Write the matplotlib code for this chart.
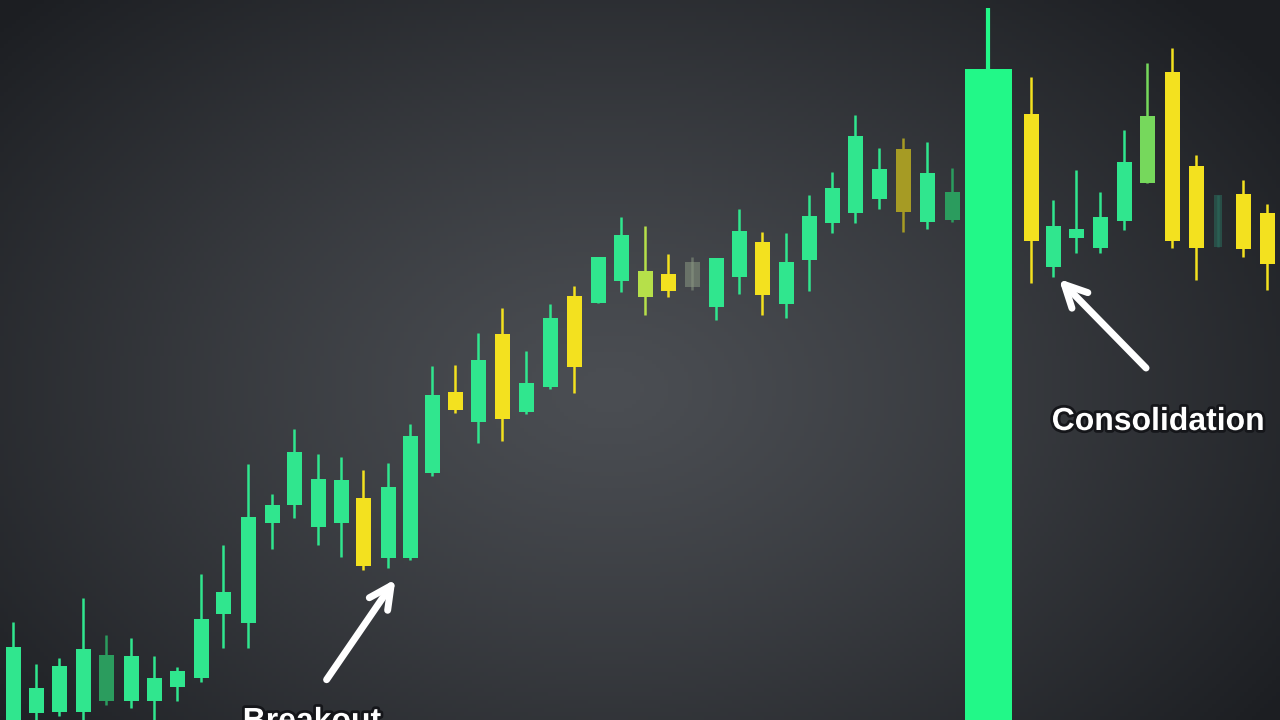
import numpy as np
import matplotlib.pyplot as plt
import matplotlib.patheffects as pe

# candle data (session position, open, high, low, close, colour kind)
t = [13, 36, 59, 83, 106, 131, 154, 177, 201, 223, 248, 272, 294, 318, 341, 363,
     388, 410, 432, 455, 478, 502, 526, 550, 574, 598, 621, 645, 668, 692, 716,
     739, 762, 786, 809, 832, 855, 879, 903, 927, 952, 988, 1031, 1053, 1076,
     1100, 1124, 1147, 1172, 1196, 1218, 1243, 1267]
high = [98, 56, 62, 122, 85, 82, 64, 53, 146, 175, 256, 226, 291, 266, 263, 250,
        257, 296, 354, 355, 387, 412, 369, 416, 434, 463, 503, 494, 466, 463, 462,
        511, 488, 487, 525, 548, 605, 572, 582, 578, 552, 712, 643, 520, 550,
        528, 590, 657, 672, 565, 525, 540, 516]
low = [-10, -10, 4, -10, 15, 12, -10, 19, 38, 72, 72, 171, 202, 175, 163, 150,
       152, 160, 244, 307, 277, 279, 306, 331, 327, 417, 428, 405, 423, 430, 400,
       426, 405, 402, 429, 487, 497, 511, 488, 491, 498, -10, 437, 443, 467,
       467, 490, 537, 472, 440, 473, 463, 430]
body_top = [73, 32, 54, 71, 65, 64, 42, 49, 101, 128, 203, 215, 268, 241, 240, 222,
            233, 284, 325, 328, 360, 386, 337, 402, 424, 463, 485, 449, 446, 458, 462,
            489, 478, 458, 504, 532, 584, 551, 571, 547, 528, 651, 606, 494, 491,
            503, 558, 604, 648, 554, 525, 526, 507]
body_bot = [-2, 7, 8, 8, 19, 19, 19, 33, 42, 106, 97, 197, 215, 193, 197, 154,
            162, 162, 247, 310, 298, 301, 308, 333, 353, 417, 439, 423, 429, 433, 413,
            443, 425, 416, 460, 497, 507, 521, 508, 498, 500, -10, 479, 453, 482,
            472, 499, 537, 479, 472, 473, 471, 456]
kind = ['g', 'g', 'g', 'g', 'dg', 'g', 'g', 'g', 'g', 'g', 'g', 'g', 'g', 'g', 'g', 'y',
        'g', 'g', 'g', 'y', 'g', 'y', 'g', 'g', 'y', 'g', 'g', 'lime', 'y', 'ghost', 'g',
        'g', 'y', 'g', 'g', 'g', 'g', 'g', 'olive', 'g', 'dg', 'big', 'y', 'g', 'g',
        'g', 'g', 'leaf', 'y', 'y', 'teal', 'y', 'y']

colors = {'g': '#30e68e', 'dg': '#2b9c5e', 'y': '#f3e11f', 'lime': '#b6e04a',
          'leaf': '#76d85c', 'olive': '#a69b24', 'ghost': '#8a9882',
          'teal': '#2b6e5e', 'big': '#22f888'}

fig = plt.figure(figsize=(12.8, 7.2), dpi=100)
ax = fig.add_axes([0, 0, 1, 1])
ax.set_xlim(0, 1280)
ax.set_ylim(0, 720)
ax.axis('off')

# radial background glow
gx, gy = np.meshgrid(np.linspace(0, 1280, 320), np.linspace(720, 0, 180))
r = np.sqrt(((gx - 610) / 820) ** 2 + ((gy - 330) / 560) ** 2)
r = np.clip(r, 0, 1)
c_in = np.array([0x4b, 0x4e, 0x53]) / 255
c_out = np.array([0x1c, 0x1e, 0x22]) / 255
w = r[..., None] ** 1.2
img = c_in * (1 - w) + c_out * w
ax.imshow(img, extent=[0, 1280, 0, 720], aspect='auto', zorder=0)

for i in range(len(t)):
    k = kind[i]
    col = colors[k]
    alpha = 0.55 if k in ('ghost', 'teal') else 1.0
    bw = 47 if k == 'big' else (8 if k == 'teal' else 15)
    lw = 3 if k == 'big' else 1.8
    ax.vlines(t[i], low[i], high[i], color=col, lw=lw, alpha=alpha, zorder=2)
    ax.bar(t[i], body_top[i] - body_bot[i], bottom=body_bot[i], width=bw,
           color=col, alpha=alpha, zorder=3 if k != 'big' else 4)

shadow = [pe.withStroke(linewidth=4, foreground='#15161a')]
arrow = dict(arrowstyle='->,head_length=1.6,head_width=0.8', color='white',
             lw=5, capstyle='round', joinstyle='round')

ax.annotate('', xy=(397, 143), xytext=(325, 38), arrowprops=arrow, zorder=5)
ax.text(312, -10, 'Breakout', color='white', fontsize=23, fontweight='bold',
        family='Liberation Sans', ha='center', va='baseline', clip_on=False,
        path_effects=shadow, zorder=6)

ax.annotate('', xy=(1057, 443), xytext=(1148, 350), arrowprops=arrow, zorder=5)
ax.text(1158, 290, 'Consolidation', color='white', fontsize=23, fontweight='bold',
        family='Liberation Sans', ha='center', va='baseline',
        path_effects=shadow, zorder=6)

fig.savefig('out.png', dpi=100)
